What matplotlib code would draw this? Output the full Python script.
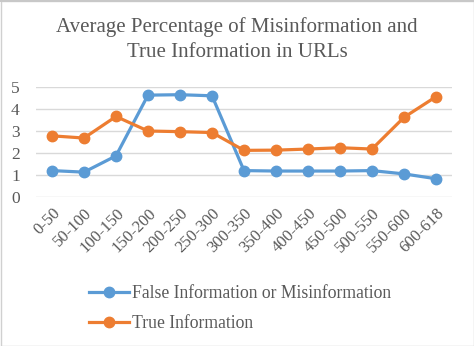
import matplotlib
matplotlib.use("Agg")
import matplotlib.pyplot as plt
from matplotlib.patches import Rectangle

categories = ["0-50", "50-100", "100-150", "150-200", "200-250", "250-300",
              "300-350", "350-400", "400-450", "450-500", "500-550",
              "550-600", "600-618"]
false_info = [1.20, 1.13, 1.87, 4.63, 4.65, 4.60, 1.20, 1.18, 1.18, 1.18, 1.20, 1.05, 0.83]
true_info = [2.78, 2.68, 3.66, 3.00, 2.97, 2.93, 2.12, 2.13, 2.18, 2.24, 2.18, 3.62, 4.56]
yticks = [0, 1, 2, 3, 4, 5]

text_color = "#595959"
blue = "#5B9BD5"
orange = "#ED7D31"
plt.rcParams["font.family"] = ["Liberation Serif", "DejaVu Serif"]

W, H = 474, 346
fig = plt.figure(figsize=(W / 100, H / 100), dpi=100)
fig.patches.append(Rectangle((0.5 / W, 0.5 / H), 1 - 1 / W, 1 - 1 / H,
                             transform=fig.transFigure, fill=False,
                             edgecolor="#D0D0D0", linewidth=1))
fig.patches.append(Rectangle((0, 1 - 2 / H), 1, 2 / H, transform=fig.transFigure,
                             facecolor="#C8C8C8", edgecolor="none"))

ax = fig.add_axes([36 / W, 1 - 197 / H, 416 / W, 110 / H])
x = list(range(len(categories)))
ax.plot(x, false_info, color=blue, lw=2.3, marker="o", ms=7.5,
        label="False Information or Misinformation", clip_on=False, zorder=3)
ax.plot(x, true_info, color=orange, lw=2.3, marker="o", ms=7.5,
        label="True Information", clip_on=False, zorder=3)

ax.set_xlim(-0.5, len(categories) - 0.5)
ax.set_ylim(0, 5)
ax.set_yticks(yticks)
ax.set_yticklabels([str(v) for v in yticks], fontsize=12.5, color=text_color)
ax.set_xticks(x)
ax.set_xticklabels(categories, rotation=45, ha="right", rotation_mode="anchor",
                   fontsize=12, color=text_color)
ax.tick_params(axis="both", length=0, pad=6)
ax.tick_params(axis="y", pad=18)
for lbl in ax.get_yticklabels():
    lbl.set_horizontalalignment("left")
ax.grid(axis="y", color="#D9D9D9", lw=1)
ax.set_axisbelow(True)
for s in ax.spines.values():
    s.set_visible(False)

fig.text(0.5, 1 - 17 / H, "Average Percentage of Misinformation and\nTrue Information in URLs",
         ha="center", va="top", fontsize=15, color=text_color, linespacing=1.4)

fig.legend(loc="upper left", bbox_to_anchor=(73 / W, 1 - 269 / H), frameon=False,
           fontsize=12.7, labelcolor=text_color, handlelength=2.3, handletextpad=0.15,
           labelspacing=0.75)

fig.savefig("out.png", dpi=100)
